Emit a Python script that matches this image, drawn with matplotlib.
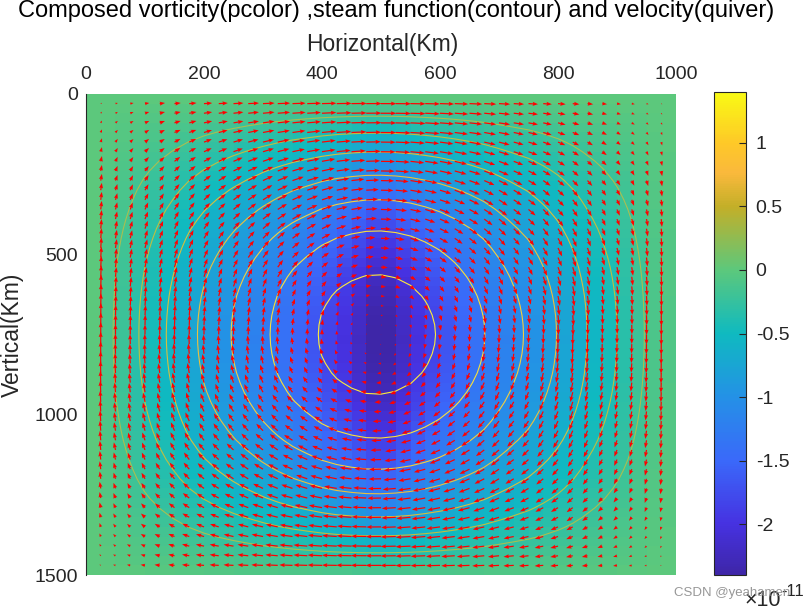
import numpy as np
import matplotlib
matplotlib.use("Agg")
import matplotlib.pyplot as plt
from matplotlib.colors import LinearSegmentedColormap

plt.rcParams["font.family"] = ["Liberation Sans", "DejaVu Sans"]
plt.rcParams["axes.unicode_minus"] = False

# vorticity shape along x (40 cells) and y (50 cells)
vort_x = [0, .045, .09, .14, .19, .23, .28, .32, .37, .41,
          .46, .50, .54, .585, .64, .70, .77, .84, .92, 1,
          1, .92, .84, .77, .70, .64, .585, .54, .50, .46,
          .41, .37, .32, .28, .23, .19, .14, .09, .045, .03]
vort_y = [0, .063, .125, .187, .249, .309, .368, .426, .482, .536,
          .588, .637, .685, .729, .771, .809, .844, .876, .905, .930,
          .951, .969, .982, .992, .998, 1, .998, .992, .982, .969,
          .951, .930, .905, .876, .844, .809, .771, .729, .685, .637,
          .588, .536, .482, .426, .368, .309, .249, .187, .125, .063]
vort_min = -2.4

# stream function shape at the grid nodes (41 x 51)
psi_x = [0, .085, .155, .215, .28, .342, .405, .472, .533, .59,
         .646, .70, .755, .807, .855, .895, .935, .965, .985, .998,
         1, .992, .975, .948, .915, .875, .83, .782, .725, .67,
         .62, .56, .50, .435, .368, .31, .253, .195, .135, .068, 0]
psi_y = vort_y + [0]
psi_levels = [.144, .253, .37, .506, .637, .78, .925]
level_colors = ["#a8bf52", "#bfbf42", "#d7bf3e", "#ebc03e", "#f5cf3e", "#fae03a", "#feeb38"]

x_ticks = [0, 200, 400, 600, 800, 1000]
y_ticks = [0, 500, 1000, 1500]
cbar_ticks = [-2, -1.5, -1, -0.5, 0, 0.5, 1]
cbar_labels = ["-2", "-1.5", "-1", "-0.5", "0", "0.5", "1"]

cmap_values = [-2.4, -2.0, -1.5, -1.0, -0.5, 0.0, 0.5, 0.77, 1.0, 1.4]
cmap_colors = ["#3e26a8", "#4632e1", "#3a69fa", "#2491e6", "#0fbac0", "#5cc87c",
               "#c3af28", "#fab93c", "#fec828", "#f9fa14"]

W, H = 804, 610


def px_axes(fig, left, top, right, bottom):
    return fig.add_axes([left / W, 1 - bottom / H, (right - left) / W, (bottom - top) / H])


fig = plt.figure(figsize=(W / 100, H / 100), dpi=100)
ax = px_axes(fig, 86, 94, 676, 575)

vmin, vmax = cmap_values[0], cmap_values[-1]
stops = [(v - vmin) / (vmax - vmin) for v in cmap_values]
cmap = LinearSegmentedColormap.from_list("parula_old", list(zip(stops, cmap_colors)), N=256)

x_nodes = np.arange(len(psi_x)) * 25.0
y_nodes = np.arange(len(psi_y)) * 30.0
vort = vort_min * np.outer(vort_y, vort_x)
psi = np.outer(psi_y, psi_x)

mesh = ax.pcolormesh(x_nodes, y_nodes, vort, cmap=cmap, vmin=vmin, vmax=vmax, shading="flat")
ax.contour(x_nodes, y_nodes, psi, levels=psi_levels, colors=level_colors, linewidths=0.8, zorder=2)

# arrows follow the stream function, lengths in data units
dpsi_dy, dpsi_dx = np.gradient(psi, y_nodes, x_nodes)
k = 12500
ax.quiver(x_nodes[1:-1], y_nodes[1:-1], k * dpsi_dy[1:-1, 1:-1], -k * dpsi_dx[1:-1, 1:-1],
          color="red", angles="xy", scale_units="xy", scale=1, units="dots", width=1.2,
          headwidth=3.4, headlength=4.5, headaxislength=4, minshaft=1, minlength=0, zorder=3)

ax.set_xlim(0, 1000)
ax.set_ylim(1500, 0)
ax.set_xticks(x_ticks)
ax.set_yticks(y_ticks)
ax.xaxis.tick_top()
ax.tick_params(length=0, labelsize=14, colors="#262626")
ax.tick_params(axis="x", pad=8)
ax.tick_params(axis="y", pad=6)
for side in ["top", "right", "bottom"]:
    ax.spines[side].set_visible(False)
ax.spines["left"].set_color("#262626")
ax.spines["left"].set_linewidth(0.8)

cax = px_axes(fig, 714, 92, 746, 575)
cbar = fig.colorbar(mesh, cax=cax)
cbar.set_ticks(cbar_ticks)
cbar.set_ticklabels(cbar_labels)
cax.tick_params(direction="in", length=5, width=0.8, labelsize=14, colors="#262626", pad=7)
cbar.outline.set_edgecolor("#262626")
cbar.outline.set_linewidth(0.8)

fig.text(396.5 / W, 1 - 11 / H, "Composed vorticity(pcolor) ,steam function(contour) and velocity(quiver)",
         ha="center", va="center", fontsize=17, color="black")
fig.text(382 / W, 1 - 45 / H, "Horizontal(Km)", ha="center", va="center", fontsize=16.5, color="#262626")
fig.text(12 / W, 1 - 335 / H, "Vertical(Km)", ha="center", va="center", rotation=90,
         fontsize=16.5, color="#262626")
fig.text(781 / W, 1 - 600 / H, "\u00d710", ha="right", va="center", fontsize=15.5, color="#262626")
fig.text(781 / W, 1 - 592 / H, "-11", ha="left", va="center", fontsize=12, color="#262626")
fig.text(674 / W, 1 - 593 / H, "CSDN @yeahamen", ha="left", va="center", fontsize=9.5, color="#8c8c8c", alpha=0.9)

fig.savefig("out.png", dpi=100)
